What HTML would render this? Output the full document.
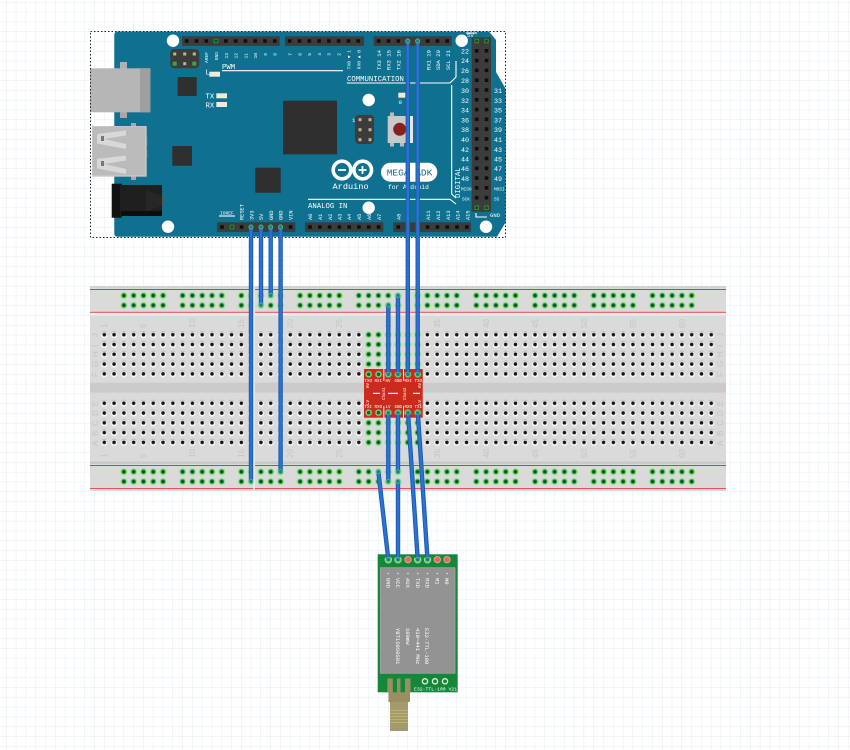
<!DOCTYPE html>
<html><head><meta charset="utf-8"><style>
html,body{margin:0;padding:0;background:#fff}
svg{display:block}
text{font-family:"Liberation Mono",monospace;fill:#fff}
.xs{font-size:4.6px}.s{font-size:5.6px}.b{font-size:5.3px}.m{font-size:6.7px}.l{font-size:7.3px}.t{font-size:4.4px}
.bb{font-family:"Liberation Sans",sans-serif;font-size:8px;fill:#c4c4c4}
</style></head><body>
<svg width="850" height="750" viewBox="0 0 850 750" xmlns="http://www.w3.org/2000/svg">
<defs>
<pattern id="grid" patternUnits="userSpaceOnUse" x="6" y="2" width="9.79" height="9.79"><path d="M0 0V9.79M0 0H9.79" stroke="#e4edf5" stroke-width="1.1" fill="none"/></pattern>
<pattern id="hole" patternUnits="userSpaceOnUse" x="99.4" y="329.8" width="9.79" height="9.79"><circle cx="4.895" cy="4.5" r="3.1" fill="#b4b4b4"/><circle cx="4.895" cy="5.3" r="3.1" fill="#f8f8f8"/><circle cx="4.895" cy="4.895" r="1.8" fill="#151515"/></pattern>
<pattern id="rail" patternUnits="userSpaceOnUse" x="99.4" y="329.8" width="9.79" height="9.79"><circle cx="4.895" cy="4.895" r="3.7" fill="#9be69b"/><circle cx="4.895" cy="4.895" r="2.4" fill="#2a9a3a"/><circle cx="4.895" cy="4.895" r="1.5" fill="#0f4f1c"/></pattern>
<path id="wires" fill="none" stroke-linecap="round" d="M251 227V481.4M261 227V305M270.7 227V295.4M280.6 227V471.8M407.8 41V374.3M417.7 41V374.3M388.3 305V374.3M398 295.4V374.3M388.3 412.7V481.4M398 412.7V471.8M398 481.4V559.5M378.4 471.8L388.3 559.5M408 412.7L417.7 559.5M417.8 412.7L427.5 559.5"/>
</defs>
<rect width="850" height="750" fill="#fff"/>
<rect width="850" height="750" fill="url(#grid)"/>

<!-- breadboard -->
<rect x="90" y="286" width="636" height="205" fill="#dadada"/>
<rect x="90" y="286" width="636" height="2" fill="#d2d2d2"/>
<rect x="90" y="313" width="636" height="2.5" fill="#ececec"/>
<rect x="90" y="461.5" width="636" height="2.5" fill="#c9c9c9"/>
<rect x="90" y="382.7" width="636" height="10" fill="#cdcbc9"/>
<rect x="90" y="289" width="636" height="1" fill="#5a5ae0"/>
<rect x="90" y="311.8" width="636" height="1" fill="#f05050"/>
<rect x="90" y="465" width="636" height="1" fill="#5a5ae0"/>
<rect x="90" y="488" width="636" height="1" fill="#f05050"/>
<rect x="99.4" y="329.8" width="616.8" height="48.95" fill="url(#hole)"/>
<rect x="99.4" y="398.33" width="616.8" height="48.95" fill="url(#hole)"/>
<path fill="url(#rail)" d="M118.98 290.64h48.95v19.58h-48.95zM177.72 290.64h48.95v19.58h-48.95zM236.46 290.64h48.95v19.58h-48.95zM295.2 290.64h48.95v19.58h-48.95zM353.94 290.64h48.95v19.58h-48.95zM412.68 290.64h48.95v19.58h-48.95zM471.42 290.64h48.95v19.58h-48.95zM530.16 290.64h48.95v19.58h-48.95zM588.9 290.64h48.95v19.58h-48.95zM647.64 290.64h48.95v19.58h-48.95z
M118.98 466.86h48.95v19.58h-48.95zM177.72 466.86h48.95v19.58h-48.95zM236.46 466.86h48.95v19.58h-48.95zM295.2 466.86h48.95v19.58h-48.95zM353.94 466.86h48.95v19.58h-48.95zM412.68 466.86h48.95v19.58h-48.95zM471.42 466.86h48.95v19.58h-48.95zM530.16 466.86h48.95v19.58h-48.95zM588.9 466.86h48.95v19.58h-48.95zM647.64 466.86h48.95v19.58h-48.95z"/>
<rect x="363.8" y="329.8" width="58.74" height="39.16" fill="#dadada"/>
<rect x="363.8" y="329.8" width="58.74" height="39.16" fill="url(#rail)"/>
<rect x="363.8" y="418" width="58.74" height="29.4" fill="#dadada"/>
<rect x="363.8" y="417.91" width="58.74" height="29.37" fill="url(#rail)"/>
<rect x="253" y="286" width="2" height="205" fill="#e8e8e8"/>
<!-- breadboard numbers -->
<g>
<text class="bb" transform="translate(107,328) rotate(-90)">1</text><text class="bb" transform="translate(146.2,328) rotate(-90)">5</text><text class="bb" transform="translate(195,328) rotate(-90)">10</text><text class="bb" transform="translate(244,328) rotate(-90)">15</text><text class="bb" transform="translate(293,328) rotate(-90)">20</text><text class="bb" transform="translate(342,328) rotate(-90)">25</text><text class="bb" transform="translate(391,328) rotate(-90)">30</text><text class="bb" transform="translate(440,328) rotate(-90)">35</text><text class="bb" transform="translate(489,328) rotate(-90)">40</text><text class="bb" transform="translate(538,328) rotate(-90)">45</text><text class="bb" transform="translate(587,328) rotate(-90)">50</text><text class="bb" transform="translate(636,328) rotate(-90)">55</text><text class="bb" transform="translate(685,328) rotate(-90)">60</text>
<text class="bb" transform="translate(107,458) rotate(-90)">1</text><text class="bb" transform="translate(146.2,458) rotate(-90)">5</text><text class="bb" transform="translate(195,458) rotate(-90)">10</text><text class="bb" transform="translate(244,458) rotate(-90)">15</text><text class="bb" transform="translate(293,458) rotate(-90)">20</text><text class="bb" transform="translate(342,458) rotate(-90)">25</text><text class="bb" transform="translate(391,458) rotate(-90)">30</text><text class="bb" transform="translate(440,458) rotate(-90)">35</text><text class="bb" transform="translate(489,458) rotate(-90)">40</text><text class="bb" transform="translate(538,458) rotate(-90)">45</text><text class="bb" transform="translate(587,458) rotate(-90)">50</text><text class="bb" transform="translate(636,458) rotate(-90)">55</text><text class="bb" transform="translate(685,458) rotate(-90)">60</text>
<text class="bb" transform="translate(98,337) rotate(-90)">J</text><text class="bb" transform="translate(98,347) rotate(-90)">I</text><text class="bb" transform="translate(98,357) rotate(-90)">H</text><text class="bb" transform="translate(98,367) rotate(-90)">G</text><text class="bb" transform="translate(98,377) rotate(-90)">F</text><text class="bb" transform="translate(98,406) rotate(-90)">E</text><text class="bb" transform="translate(98,416) rotate(-90)">D</text><text class="bb" transform="translate(98,426) rotate(-90)">C</text><text class="bb" transform="translate(98,436) rotate(-90)">B</text><text class="bb" transform="translate(98,446) rotate(-90)">A</text>
<text class="bb" transform="translate(723,337) rotate(-90)">J</text><text class="bb" transform="translate(723,347) rotate(-90)">I</text><text class="bb" transform="translate(723,357) rotate(-90)">H</text><text class="bb" transform="translate(723,367) rotate(-90)">G</text><text class="bb" transform="translate(723,377) rotate(-90)">F</text><text class="bb" transform="translate(723,406) rotate(-90)">E</text><text class="bb" transform="translate(723,416) rotate(-90)">D</text><text class="bb" transform="translate(723,426) rotate(-90)">C</text><text class="bb" transform="translate(723,436) rotate(-90)">B</text><text class="bb" transform="translate(723,446) rotate(-90)">A</text>
</g>

<!-- Arduino board -->
<path d="M114.3 35q0-3.5 3.5-3.5H489L496 40V72L505.8 89V222L497 236.7H117.8q-3.5 0-3.5-3.5z" fill="#10708f"/>
<!-- USB B -->
<rect x="120" y="62" width="7" height="7" fill="#b0b0b0"/><rect x="120" y="112" width="7" height="6" fill="#a8a8a8"/>
<rect x="90" y="68.3" width="60.3" height="44" fill="#b6b6b6"/><rect x="140" y="68.3" width="10.3" height="44" fill="#9f9f9f"/>
<!-- USB A -->
<rect x="131" y="123" width="5" height="4" fill="#a8a8a8"/><rect x="131" y="176" width="5" height="4" fill="#a8a8a8"/>
<rect x="146" y="137" width="2" height="8" fill="#5a6a70"/><rect x="146" y="150" width="2" height="8" fill="#5a6a70"/>
<rect x="92" y="126" width="54.7" height="50.7" fill="#c6c6c6"/>
<rect x="93" y="127" width="52" height="48" fill="#bbbbbb"/>
<path d="M97 134L126 130.5V135.5L104 139L126 144V149L97 143.5z" fill="#d8d8d8"/><path d="M97 159L126 155.5V160.5L104 164L126 169V174L97 168.5z" fill="#d8d8d8"/>
<rect x="101" y="136" width="3" height="5" fill="#777"/><rect x="101" y="161" width="3" height="5" fill="#777"/>
<!-- jack -->
<rect x="111.7" y="183.7" width="10" height="34" fill="#111"/><rect x="120" y="185" width="42" height="31" fill="#1f1f1f"/>
<path d="M146 190L162 196V206L146 211z" fill="#272727"/><rect x="162" y="195" width="2" height="12" fill="#555"/>
<rect x="121" y="211" width="41" height="5" fill="#0d0d0d"/>
<!-- mount holes -->
<g fill="#fff"><circle cx="173" cy="40.7" r="6.2"/><circle cx="168" cy="226.7" r="6.2"/><circle cx="461.7" cy="40.7" r="6.2"/><circle cx="368.7" cy="100" r="6.2"/><circle cx="368.7" cy="207.7" r="6.2"/><circle cx="486" cy="226.7" r="6.2"/></g>
<!-- chips -->
<g fill="#2f2f2f"><rect x="177.7" y="77" width="19" height="19"/><rect x="172.3" y="146" width="19.7" height="19.7"/><rect x="255.3" y="167.7" width="25.4" height="25"/><rect x="283" y="100.7" width="54" height="53.6"/></g>
<!-- headers -->
<g fill="#3c3c3c"><rect x="182" y="36.3" width="97.7" height="9.6"/><rect x="285" y="36.3" width="79" height="9.6"/><rect x="373.7" y="36.3" width="78" height="9.6"/><rect x="217" y="222.3" width="78.3" height="9.6"/><rect x="305" y="222.3" width="78.3" height="9.6"/><rect x="393.3" y="222.3" width="77.7" height="9.6"/><rect x="471.7" y="37.3" width="19.3" height="174.4"/>
<rect x="170.3" y="49" width="29" height="19.3" rx="4"/><rect x="355" y="115" width="19" height="29" rx="4"/></g>
<g fill="none" stroke="#0e0e0e" stroke-width="3.6" stroke-dasharray="3.6 6.19">
<path d="M184.9 41H279"/><path d="M287.9 41H364"/><path d="M376.9 41H452"/><path d="M220.2 227H295"/><path d="M308.2 227H383"/><path d="M396.5 227H471"/>
<path d="M476.7 39.2V212"/><path d="M486.5 39.2V212"/></g>
<g fill="#c2b48f"><rect x="173.2" y="52.5" width="3" height="3"/><rect x="183.2" y="52.5" width="3" height="3"/><rect x="192.8" y="52.5" width="3" height="3"/><rect x="183.2" y="62.2" width="3" height="3"/>
<rect x="358.5" y="118.2" width="3" height="3"/><rect x="368.5" y="118.2" width="3" height="3"/><rect x="358.5" y="128.2" width="3" height="3"/><rect x="368.5" y="128.2" width="3" height="3"/><rect x="358.5" y="138.2" width="3" height="3"/><rect x="368.5" y="138.2" width="3" height="3"/></g>
<g fill="#3ea34a"><rect x="172.7" y="61.7" width="4" height="4"/><rect x="192.3" y="61.7" width="4" height="4"/></g>
<g fill="#0b4d10" stroke="#2f8a3d" stroke-width="1"><rect x="214.2" y="39.2" width="3.6" height="3.6"/><rect x="474.9" y="39.2" width="3.6" height="3.6"/><rect x="484.7" y="39.2" width="3.6" height="3.6"/><rect x="474.9" y="205.9" width="3.6" height="3.6"/><rect x="484.7" y="205.9" width="3.6" height="3.6"/><rect x="230.2" y="225.2" width="3.6" height="3.6"/></g>
<!-- LEDs -->
<g fill="#f3ead6"><rect x="209.3" y="71.7" width="10.7" height="5"/><rect x="216.3" y="93.3" width="10.7" height="5"/><rect x="216.3" y="102" width="10.7" height="5"/><rect x="398.3" y="92.7" width="7" height="5"/></g>
<!-- reset -->
<rect x="387.7" y="116" width="22.3" height="27" fill="#c9c9c9"/><rect x="390" y="112.5" width="4" height="4" fill="#bbb"/><rect x="390" y="143" width="4" height="3.5" fill="#bbb"/><rect x="400" y="143" width="4" height="3.5" fill="#bbb"/><rect x="410" y="116" width="3" height="27" fill="#e6e6e6"/>
<circle cx="399.7" cy="129.3" r="6.5" fill="#87201f"/>
<!-- silk lines -->
<g fill="none" stroke="#fff" stroke-width="1.1">
<path d="M222 70.7H343"/><path d="M346.7 83H450L456 77V61"/><path d="M451.7 85V194L456 198"/><path d="M308 199.3H450L456 204"/><path d="M219 216H235"/><path d="M466 33H477"/><path d="M476 213V217H487"/>
</g>
<!-- logo -->
<g fill="none" stroke="#fff" stroke-width="3.6"><circle cx="342" cy="170" r="8.8"/><circle cx="362.7" cy="170" r="8.8"/></g>
<path d="M338 170h8M358.5 170h8M362.5 166v8" stroke="#fff" stroke-width="1.8"/>
<text x="332.5" y="189" style="font-size:8.6px">Arduino</text>
<rect x="381" y="162.7" width="56.3" height="19" rx="9.5" fill="#fff"/>
<text x="386.7" y="175.5" style="font-size:9.5px;fill:#10708f">MEGA ADK</text>
<text x="388" y="189" style="font-size:6.2px">for Android</text>
<text class="l" x="222" y="69">PWM</text>
<text class="l" x="347" y="81">COMMUNICATION</text>
<text class="l" x="308" y="208">ANALOG IN</text>
<text class="l" x="205.5" y="74.5">L</text><text class="l" x="205.5" y="98.5">TX</text><text class="l" x="205.5" y="107.5">RX</text>
<text class="s" x="352" y="122">1</text><text class="s" x="398.5" y="104">0</text>
<text class="xs" x="220" y="214.5">IOREF</text>
<text class="l" transform="translate(460,198) rotate(-90)">DIGITAL</text>
<text class="s" x="467" y="37">5V</text><text class="s" x="490" y="217">GND</text>
<!-- top labels -->
<g>
<text class="xs" transform="translate(208,52) rotate(-90)" text-anchor="end">AREF</text><text class="xs" transform="translate(217.8,52) rotate(-90)" text-anchor="end">GND</text><text class="xs" transform="translate(227.8,53) rotate(-90)" text-anchor="end">13</text><text class="xs" transform="translate(237.6,53) rotate(-90)" text-anchor="end">12</text><text class="xs" transform="translate(247.6,53) rotate(-90)" text-anchor="end">11</text><text class="xs" transform="translate(257,53) rotate(-90)" text-anchor="end">10</text><text class="xs" transform="translate(266.8,53) rotate(-90)" text-anchor="end">9</text><text class="xs" transform="translate(276.6,53) rotate(-90)" text-anchor="end">8</text>
<text class="xs" transform="translate(291.5,53) rotate(-90)" text-anchor="end">7</text><text class="xs" transform="translate(301.3,53) rotate(-90)" text-anchor="end">6</text><text class="xs" transform="translate(311,53) rotate(-90)" text-anchor="end">5</text><text class="xs" transform="translate(320.8,53) rotate(-90)" text-anchor="end">4</text><text class="xs" transform="translate(330.6,53) rotate(-90)" text-anchor="end">3</text><text class="xs" transform="translate(340.4,53) rotate(-90)" text-anchor="end">2</text><text class="xs" transform="translate(350.5,50) rotate(-90)" text-anchor="end">TX0 ▼ 1</text><text class="xs" transform="translate(360.3,50) rotate(-90)" text-anchor="end">RX0 ▲ 0</text>
<text class="s" transform="translate(381,50) rotate(-90)" text-anchor="end">TX3 14</text><text class="s" transform="translate(390.5,50) rotate(-90)" text-anchor="end">RX3 15</text><text class="s" transform="translate(400.5,50) rotate(-90)" text-anchor="end">TX2 16</text><text class="s" transform="translate(430.5,50) rotate(-90)" text-anchor="end">RX1 19</text><text class="s" transform="translate(440,50) rotate(-90)" text-anchor="end">SDA 20</text><text class="s" transform="translate(450,50) rotate(-90)" text-anchor="end">SCL 21</text>
</g>
<!-- bottom labels -->
<text class="b" transform="translate(243.6,220) rotate(-90)">RESET</text><text class="b" transform="translate(253.3,220) rotate(-90)">3V3</text><text class="b" transform="translate(263,220) rotate(-90)">5V</text><text class="b" transform="translate(272.8,220) rotate(-90)">GND</text><text class="b" transform="translate(282.6,220) rotate(-90)">GND</text><text class="b" transform="translate(292.3,220) rotate(-90)">VIN</text>
<text class="b" transform="translate(312,220) rotate(-90)">A0</text><text class="b" transform="translate(322,220) rotate(-90)">A1</text><text class="b" transform="translate(332,220) rotate(-90)">A2</text><text class="b" transform="translate(341.5,220) rotate(-90)">A3</text><text class="b" transform="translate(351,220) rotate(-90)">A4</text><text class="b" transform="translate(361,220) rotate(-90)">A5</text><text class="b" transform="translate(371,220) rotate(-90)">A6</text><text class="b" transform="translate(381,220) rotate(-90)">A7</text>
<text class="b" transform="translate(400.5,220) rotate(-90)">A8</text><text class="b" transform="translate(430,220) rotate(-90)">A11</text><text class="b" transform="translate(440,220) rotate(-90)">A12</text><text class="b" transform="translate(450,220) rotate(-90)">A13</text><text class="b" transform="translate(459.5,220) rotate(-90)">A14</text><text class="b" transform="translate(469.5,220) rotate(-90)">A15</text>
<!-- digital labels -->
<g>
<text class="m" x="461" y="53.5">22</text><text class="m" x="461" y="63">24</text><text class="m" x="461" y="73">26</text><text class="m" x="461" y="83">28</text><text class="m" x="461" y="93">30</text><text class="m" x="461" y="103">32</text><text class="m" x="461" y="112.5">34</text><text class="m" x="461" y="122.5">36</text><text class="m" x="461" y="132">38</text><text class="m" x="461" y="142">40</text><text class="m" x="461" y="152">42</text><text class="m" x="461" y="161.5">44</text><text class="m" x="461" y="171">46</text><text class="m" x="461" y="181">48</text>
<text class="t" x="461" y="190.5">MISO</text><text class="t" x="462" y="200.5">SCK</text>
<text class="m" x="494" y="93">31</text><text class="m" x="494" y="103">33</text><text class="m" x="494" y="112.5">35</text><text class="m" x="494" y="122.5">37</text><text class="m" x="494" y="132">39</text><text class="m" x="494" y="142">41</text><text class="m" x="494" y="152">43</text><text class="m" x="494" y="161.5">45</text><text class="m" x="494" y="171">47</text><text class="m" x="494" y="181">49</text>
<text class="t" x="494" y="190.5">MOSI</text><text class="t" x="494" y="200.5">SS</text>
</g>
<!-- selection outline -->
<rect x="90.5" y="31.5" width="415" height="206" fill="none" stroke="#222" stroke-width="1" stroke-dasharray="1.5 2"/>

<!-- level shifter -->
<rect x="364" y="369" width="58.7" height="48.7" fill="#cb2a1c"/>
<g fill="#fff"><rect x="383.3" y="369" width="1" height="12"/><rect x="383.3" y="406" width="1" height="12"/><rect x="403" y="369" width="1" height="12"/><rect x="403" y="406" width="1" height="12"/><rect x="388" y="392.8" width="10" height="1.2"/><rect x="373" y="392.8" width="7" height="1.2"/><rect x="413" y="392.8" width="7" height="1.2"/></g>
<g fill="#9be69b" stroke="#58c060" stroke-width="1">
<circle cx="368.7" cy="374.3" r="3"/><circle cx="378.5" cy="374.3" r="3"/><circle cx="388.3" cy="374.3" r="3"/><circle cx="398" cy="374.3" r="3"/><circle cx="407.8" cy="374.3" r="3"/><circle cx="417.7" cy="374.3" r="3"/>
<circle cx="368.7" cy="412.7" r="3"/><circle cx="378.5" cy="412.7" r="3"/><circle cx="388.3" cy="412.7" r="3"/><circle cx="398" cy="412.7" r="3"/><circle cx="407.8" cy="412.7" r="3"/><circle cx="417.7" cy="412.7" r="3"/></g>
<g fill="#17651f"><circle cx="368.7" cy="374.3" r="1.9"/><circle cx="378.5" cy="374.3" r="1.9"/><circle cx="368.7" cy="412.7" r="1.9"/><circle cx="378.5" cy="412.7" r="1.9"/></g>
<g>
<text style="font-size:4.2px" x="364.5" y="382">TXO</text><text style="font-size:4.2px" x="374.5" y="382">RXI</text><text style="font-size:4.2px" x="385.5" y="382">HV</text><text style="font-size:4.2px" x="394.5" y="382">GND</text><text style="font-size:4.2px" x="404.5" y="382">RXI</text><text style="font-size:4.2px" x="414.5" y="382">TXO</text>
<text style="font-size:4.2px" x="364.5" y="408">TXI</text><text style="font-size:4.2px" x="374.5" y="408">RXO</text><text style="font-size:4.2px" x="385.5" y="408">LV</text><text style="font-size:4.2px" x="394.5" y="408">GND</text><text style="font-size:4.2px" x="404.5" y="408">RXO</text><text style="font-size:4.2px" x="414.5" y="408">TXI</text>
<text style="font-size:4.2px" transform="translate(385,400) rotate(-90)">Chan1</text><text style="font-size:4.2px" transform="translate(406,400) rotate(-90)">Chan2</text>
<text style="font-size:4.2px" transform="translate(369,388) rotate(-90)">HV</text><text style="font-size:4.2px" transform="translate(421,388) rotate(-90)">HV</text><text style="font-size:4.2px" transform="translate(369,405) rotate(-90)">LV</text><text style="font-size:4.2px" transform="translate(421,405) rotate(-90)">LV</text>
</g>

<!-- E32 module -->
<rect x="388.5" y="692" width="21.5" height="10" fill="#9b8f62"/>
<rect x="377.7" y="554.3" width="80" height="138" fill="#14883a"/>
<g fill="#9b8f62"><rect x="387.3" y="678.5" width="5.5" height="14"/><rect x="397" y="678.5" width="3.5" height="14"/><rect x="405" y="678.5" width="5.5" height="14"/></g>
<rect x="390" y="702" width="18" height="29" fill="#a39a70"/>
<path d="M390 710.5h18M390 713.5h18M390 716.5h18M390 719.5h18M390 722.5h18" stroke="#c0b35a" stroke-width="1"/>
<rect x="380.3" y="567.7" width="74.7" height="105.6" fill="#939393" stroke="#a8a8a8" stroke-width=".7"/>
<g fill="#e6685c" stroke="#f0b0a8" stroke-width=".8"><circle cx="408" cy="559.7" r="3.2"/><circle cx="437.3" cy="559.7" r="3.2"/><circle cx="447" cy="559.7" r="3.2"/></g>
<g fill="#7cc66a" stroke="#a8d88c" stroke-width="1"><circle cx="388.3" cy="559.7" r="3.2"/><circle cx="398" cy="559.7" r="3.2"/><circle cx="417.7" cy="559.7" r="3.2"/><circle cx="427.5" cy="559.7" r="3.2"/></g>
<g fill="#14883a" stroke="#f3efdc" stroke-width="1.3"><circle cx="425" cy="681.3" r="2.6"/><circle cx="435" cy="681.3" r="2.6"/><circle cx="445" cy="681.3" r="2.6"/></g>
<g fill="#e4e4e4"><circle cx="388.3" cy="573.5" r=".8"/><circle cx="398" cy="573.5" r=".8"/><circle cx="408" cy="573.5" r=".8"/><circle cx="417.7" cy="573.5" r=".8"/><circle cx="427.5" cy="573.5" r=".8"/><circle cx="437.3" cy="573.5" r=".8"/><circle cx="447" cy="573.5" r=".8"/></g>
<g>
<text style="font-size:5.5px" transform="translate(386.5,578) rotate(90)">GND</text><text style="font-size:5.5px" transform="translate(396.2,578) rotate(90)">VCC</text><text style="font-size:5.5px" transform="translate(406.2,578) rotate(90)">AUX</text><text style="font-size:5.5px" transform="translate(415.9,578) rotate(90)">TXD</text><text style="font-size:5.5px" transform="translate(425.7,578) rotate(90)">RXD</text><text style="font-size:5.5px" transform="translate(435.5,578) rotate(90)">M1</text><text style="font-size:5.5px" transform="translate(445.2,578) rotate(90)">M0</text>
<text style="font-size:5.5px" transform="translate(396.2,628) rotate(90)">YBT1S0S0S01</text><text style="font-size:5.5px" transform="translate(406.2,628) rotate(90)">100mW</text><text style="font-size:5.5px" transform="translate(415.9,628) rotate(90)">410~441 MHz</text><text style="font-size:5.5px" transform="translate(425.2,628) rotate(90)">E32-TTL-100</text>
<text style="font-size:4.8px" x="414" y="690.5">E32-TTL-100 V21</text>
</g>

<!-- wires -->
<use href="#wires" stroke="#1c5cb0" stroke-width="4.4"/>
<use href="#wires" stroke="#2c72d4" stroke-width="2.4"/>
<g fill="#17828c" stroke="#62c878" stroke-width=".7">
<circle cx="251" cy="481.4" r="2.1"/><circle cx="261" cy="305" r="2.1"/><circle cx="270.7" cy="295.4" r="2.1"/><circle cx="280.6" cy="471.8" r="2.1"/><circle cx="388.3" cy="305" r="2.1"/><circle cx="398" cy="295.4" r="2.1"/><circle cx="378.4" cy="471.8" r="2.1"/><circle cx="398" cy="471.8" r="2.1"/><circle cx="398" cy="481.4" r="2.1"/><circle cx="388.3" cy="481.4" r="2.1"/>
<circle cx="251" cy="227" r="2.1"/><circle cx="261" cy="227" r="2.1"/><circle cx="270.7" cy="227" r="2.1"/><circle cx="280.6" cy="227" r="2.1"/><circle cx="407.8" cy="41" r="2.1"/><circle cx="417.7" cy="41" r="2.1"/>
<circle cx="388.3" cy="374.3" r="2.1"/><circle cx="398" cy="374.3" r="2.1"/><circle cx="407.8" cy="374.3" r="2.1"/><circle cx="417.7" cy="374.3" r="2.1"/><circle cx="388.3" cy="412.7" r="2.1"/><circle cx="398" cy="412.7" r="2.1"/><circle cx="408" cy="412.7" r="2.1"/><circle cx="417.8" cy="412.7" r="2.1"/>
<circle cx="388.3" cy="559.5" r="2.1"/><circle cx="398" cy="559.5" r="2.1"/><circle cx="417.7" cy="559.5" r="2.1"/><circle cx="427.5" cy="559.5" r="2.1"/>
</g>
</svg>
</body></html>
